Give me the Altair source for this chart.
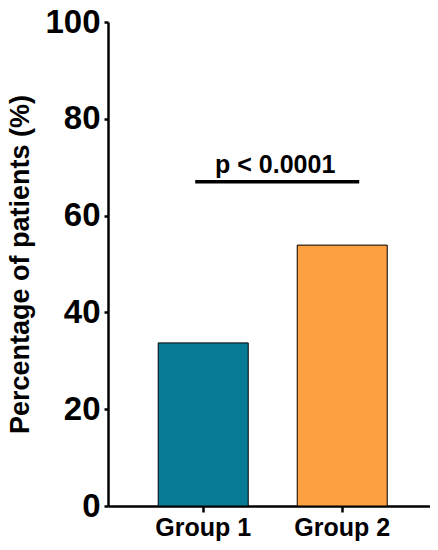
import altair as alt
import pandas as pd

groups = ["Group 1", "Group 2"]
values = [33.7, 53.9]
colors = ["#087B96", "#FDA042"]
y_ticks = [0, 20, 40, 60, 80, 100]
p_label = "p < 0.0001"
bracket_y = 67.0

bars_df = pd.DataFrame({"group": groups, "value": values})
sig_df = pd.DataFrame({"g1": [groups[0]], "g2": [groups[1]], "y": [bracket_y], "label": [p_label]})

FONT = "Liberation Sans"

x_scale = alt.Scale(domain=groups, paddingInner=0.3525, paddingOuter=0.3345, align=0.54)
y_scale = alt.Scale(domain=[0, 100], nice=False)

bars = alt.Chart(bars_df).mark_bar(stroke="black", strokeWidth=1).encode(
    x=alt.X("group:N", scale=x_scale, sort=groups,
            axis=alt.Axis(title=None, labelAngle=0, labelFont=FONT, labelFontSize=25,
                          labelFontWeight="bold", labelColor="black", tickSize=6,
                          tickWidth=2.5, tickColor="black", domainWidth=2.5,
                          domainColor="black", labelPadding=3, grid=False)),
    y=alt.Y("value:Q", scale=y_scale,
            axis=alt.Axis(values=y_ticks, title="Percentage of patients (%)",
                          labelFont=FONT, labelFontSize=33, labelFontWeight="bold",
                          labelColor="black", labelFlush=False, tickSize=4, tickWidth=2.5,
                          tickColor="black", domainWidth=2.5, domainColor="black",
                          labelPadding=4, grid=False, titleFont=FONT, titleFontSize=27,
                          titleFontWeight="bold", titleColor="black", titleAngle=270,
                          titleBaseline="alphabetic", titleAlign="center",
                          titleX=-80, titleY=242)),
    color=alt.Color("group:N", scale=alt.Scale(domain=groups, range=colors), legend=None),
)

rule = alt.Chart(sig_df).mark_rule(color="black", strokeWidth=3.5, xOffset=-8, x2Offset=17).encode(
    x=alt.X("g1:N", scale=x_scale, sort=groups),
    x2="g2:N",
    y=alt.Y("y:Q", scale=y_scale),
)

text = alt.Chart(sig_df).mark_text(font=FONT, fontSize=25, fontWeight="bold", color="black",
                                   align="center", baseline="alphabetic", dx=72, dy=-9).encode(
    x=alt.X("g1:N", scale=x_scale, sort=groups),
    y=alt.Y("y:Q", scale=y_scale),
    text="label:N",
)

chart = alt.layer(bars, rule, text).properties(
    width=322, height=484,
    background="white",
    autosize=alt.AutoSizeParams(type="none"),
    padding={"left": 100, "top": 14, "right": 0, "bottom": 40},
).configure_view(stroke=None)

chart.save("out.html", embed_options={"renderer": "svg", "actions": False})
